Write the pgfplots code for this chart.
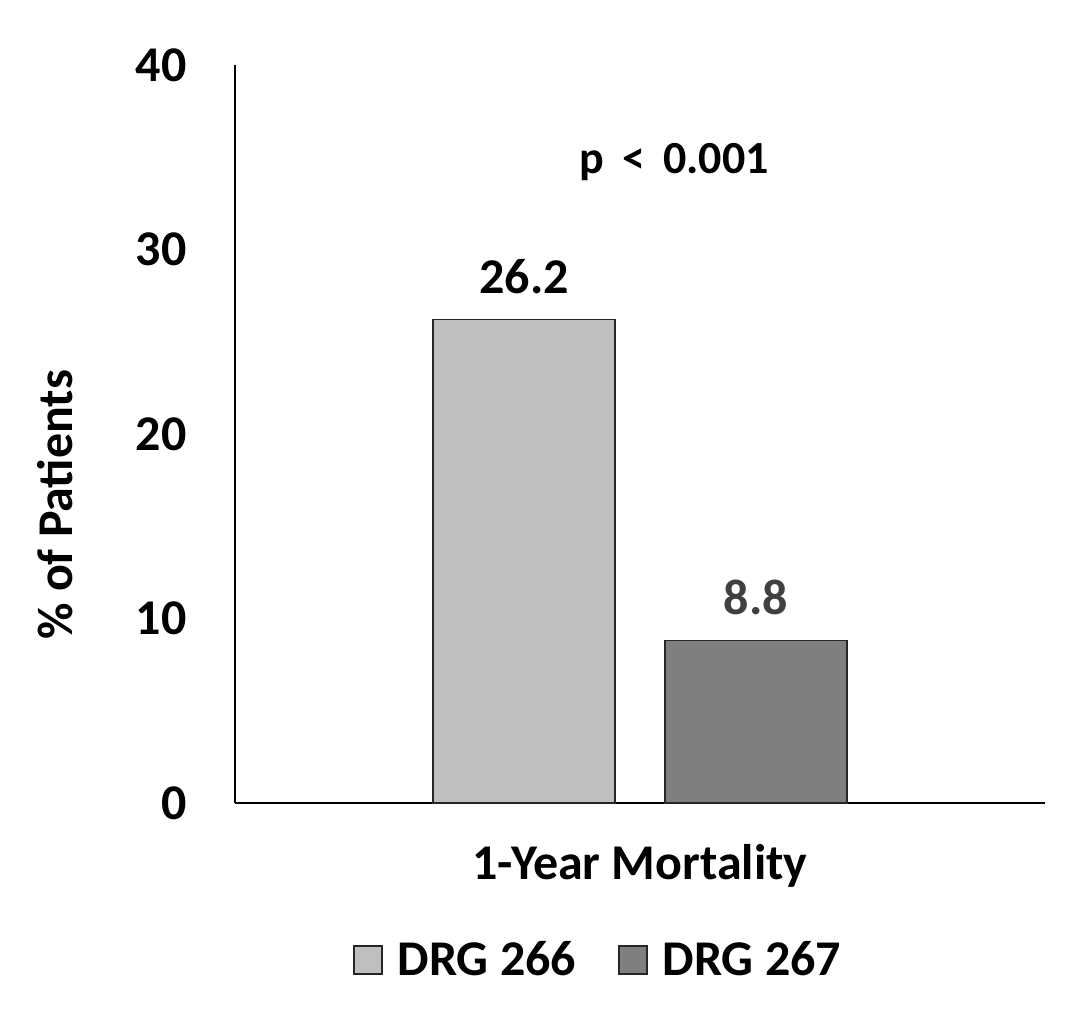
\documentclass[border=0pt]{standalone}
\usepackage{fontspec}
\setmainfont{Carlito}
\usepackage{pgfplots}
\usepackage{pgfplotstable}
\pgfplotsset{compat=1.18}
\definecolor{barA}{HTML}{BFBFBF}
\definecolor{barB}{HTML}{7F7F7F}
\definecolor{edge}{HTML}{262626}
\definecolor{lblB}{HTML}{404040}
\newcommand{\bigf}{\fontsize{25}{30}\selectfont\bfseries}
\pgfplotstableread{
x y
289 26.2
}\drgA
\pgfplotstableread{
x y
521 8.8
}\drgB
\begin{document}
\begin{tikzpicture}
\begin{axis}[
  /pgf/number format/assume math mode=true,
  scale only axis, width=405pt, height=369pt,
  xmin=0, xmax=810, ymin=0, ymax=40,
  axis x line=bottom, axis y line=left,
  axis line style={-, black, line width=1.1pt},
  x axis line style={line width=1.3pt},
  ytick={0,10,20,30,40}, major tick length=0pt,
  xtick={405}, xticklabels={1-Year Mortality},
  yticklabel style={font=\bigf, inner sep=0pt, xshift=-24pt},
  xticklabel style={font=\bigf, inner sep=0pt, anchor=base, yshift=-38.5pt},
  ylabel={\% of Patients},
  ylabel style={font=\bigf, at={(axis description cs:-0.2,0.404)}, anchor=base, inner sep=0pt},
  ybar, bar width=91pt, bar shift=0pt,
  nodes near coords,
  nodes near coords style={font=\bigf, inner sep=0pt, anchor=south, yshift=12.5pt},
  legend style={at={(axis description cs:0.447,-0.2127)}, anchor=center, draw=none, fill=none,
    font=\bigf, nodes={inner sep=0pt}, column sep=7.5pt,
    /tikz/every even column/.append style={column sep=21pt}},
  legend columns=2,
  legend image code/.code={\draw[#1] (0pt,-7pt) rectangle (14pt,7pt);},
  clip=false,
]
\addplot[fill=barA, draw=edge, line width=0.8pt, nodes near coords style={text=black}] table {\drgA};
\addplot[fill=barB, draw=edge, line width=0.8pt, nodes near coords style={text=lblB}] table {\drgB};
\legend{DRG 266, DRG 267}
\node[font=\fontsize{23}{27}\selectfont\bfseries, anchor=base] at (axis cs:439,34.1) {p\, <\, 0.001};
\end{axis}
\pgfresetboundingbox
\path[use as bounding box] (-117.5pt,-103.5pt) rectangle (428.5pt,401.5pt);
\end{tikzpicture}
\end{document}
